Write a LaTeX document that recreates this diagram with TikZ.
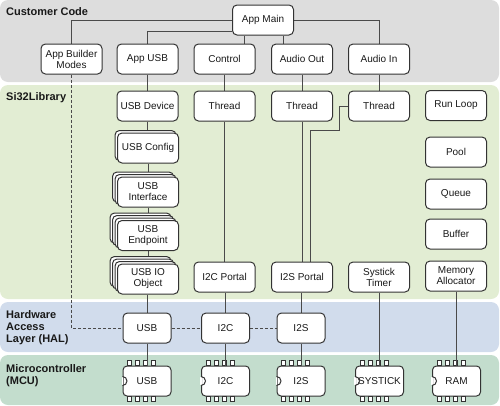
\documentclass[tikz,border=0pt]{standalone}
\usepackage{fontspec}
\setmainfont{Liberation Sans}
\usetikzlibrary{calc}
\definecolor{bandgray}{HTML}{DDDDDD}
\definecolor{bandgreen}{HTML}{E2EDD3}
\definecolor{bandblue}{HTML}{D1DCEC}
\definecolor{bandmcu}{HTML}{C3DDCD}
\definecolor{edgec}{HTML}{333333}
\definecolor{wirec}{HTML}{4A4A4A}
\pgfdeclarelayer{back}
\pgfdeclarelayer{mid}
\pgfsetlayers{back,mid,main}
\begin{document}
\begin{tikzpicture}[x=1pt,y=-1pt,
  box/.style={draw=edgec, fill=white, line width=1pt, rounded corners=4.5pt,
    minimum width=61pt, minimum height=30pt, inner sep=1pt, align=center,
    font=\fontsize{10}{11}\selectfont, text=black!90},
  halbox/.style={box, minimum width=48pt},
  chipbox/.style={box, minimum width=48pt, rounded corners=4pt},
  pin/.style={draw=edgec, fill=white, line width=0.8pt},
  wire/.style={draw=wirec, line width=1pt},
  dashwire/.style={wire, dash pattern=on 3pt off 2pt},
  band/.style={rounded corners=8pt},
  title/.style={anchor=north west, align=left, inner sep=0pt,
    font=\fontsize{11}{12}\selectfont\bfseries, text=black!90}]
\useasboundingbox (0,0) rectangle (500,405);
\begin{pgfonlayer}{back}
  \fill[bandgray,band] (0,0) rectangle (499,82);
  \fill[bandgreen,band] (0,85) rectangle (499,299);
  \fill[bandblue,band] (0,302) rectangle (499,352);
  \fill[bandmcu,band] (0,355) rectangle (499,405);
\end{pgfonlayer}
% titles
\node[title] (tcust) at (6,7) {Customer Code};
\node[title] (tlib) at (6,92) {Si32Library};
\node[title] (thal) at (6,310) {Hardware\\Access\\Layer (HAL)};
\node[title] (tmcu) at (6,364) {Microcontroller\\(MCU)};
% customer code
\node[box] (appmain) at (263,20) {App Main};
\node[box] (appbuilder) at (71.5,59) {App Builder\\Modes};
\node[box] (appusb) at (147.5,59) {App USB};
\node[box] (control) at (224.5,59) {Control};
\node[box] (audioout) at (302,59) {Audio Out};
\node[box] (audioin) at (379,59) {Audio In};
% library
\node[box] (usbdev) at (147.5,106) {USB Device};
\node[box] (cfgb1) at (145.5,145.5) {};
\node[box] (usbcfg) at (148,148) {USB Config};
\node[box] (intfb2) at (143,187) {};
\node[box] (intfb1) at (145.5,189.5) {};
\node[box] (usbintf) at (148,192) {USB\\Interface};
\node[box] (endpb3) at (140.5,228) {};
\node[box] (endpb2) at (143,230.5) {};
\node[box] (endpb1) at (145.5,233) {};
\node[box] (usbendp) at (148,235.5) {USB\\Endpoint};
\node[box] (iob3) at (140.5,271.5) {};
\node[box] (iob2) at (143,274) {};
\node[box] (iob1) at (145.5,276.5) {};
\node[box] (usbio) at (148,279) {USB IO\\Object};
\node[box] (thrctl) at (224.5,106) {Thread};
\node[box] (throut) at (302,106) {Thread};
\node[box] (thrin) at (379,106) {Thread};
\node[box] (runloop) at (456,105.5) {Run Loop};
\node[box] (pool) at (456,152) {Pool};
\node[box] (queue) at (456,194) {Queue};
\node[box] (buffer) at (456,234) {Buffer};
\node[box] (memalloc) at (456,276) {Memory\\Allocator};
\node[box] (i2cportal) at (224.5,277) {I2C Portal};
\node[box] (i2sportal) at (302,277) {I2S Portal};
\node[box] (systimer) at (379,277) {Systick\\Timer};
% HAL
\node[halbox] (halusb) at (147,328) {USB};
\node[halbox] (hali2c) at (225.5,328) {I2C};
\node[halbox] (hali2s) at (301,328) {I2S};
% MCU chips
\node[chipbox] (mcuusb) at (147,381) {USB};
\node[chipbox] (mcui2c) at (225.5,381) {I2C};
\node[chipbox] (mcui2s) at (301,381) {I2S};
\node[chipbox, inner sep=0pt] (mcusys) at (379.5,381) {SYSTICK};
\node[chipbox] (mcuram) at (456.5,381) {RAM};
\foreach \c in {mcuusb,mcui2c,mcui2s,mcusys,mcuram}{
  \foreach \o in {5,13,21,29}{
    \draw[pin] ([xshift=\o pt]\c.north west) rectangle ++(4,-5);
    \draw[pin] ([xshift=\o pt]\c.south west) rectangle ++(4,5);
  }
  \draw[white, line width=1.4pt] ([yshift=4pt]\c.west) -- ([yshift=-4pt]\c.west);
  \draw[edgec, line width=1pt] ([yshift=4.5pt]\c.west) arc[start angle=90, end angle=-90, radius=4.5pt];
}
% connectors
\begin{pgfonlayer}{mid}
  \draw[wire] (appmain.west) -| (appbuilder.north);
  \draw[wire] ($(appmain.west)+(0,11)$) -| (appusb.north);
  \draw[wire] (appmain.south -| 244,0) -- (control.north -| 244,0);
  \draw[wire] (appmain.south -| 283,0) -- (audioout.north -| 283,0);
  \draw[wire] (appmain.east) -| (audioin.north);
  \draw[wire] (appusb.south) -- (usbdev.north);
  \draw[wire] (usbdev.south) -- (usbdev.south |- usbcfg.north);
  \draw[wire] (usbcfg.south) -- (usbcfg.south |- usbintf.north);
  \draw[wire] (usbintf.south) -- (usbintf.south |- usbendp.north);
  \draw[wire] (usbendp.south) -- (usbendp.south |- usbio.north);
  \draw[wire] (usbio.south -| halusb.north) -- (halusb.north);
  \draw[wire] (control.south) -- (thrctl.north);
  \draw[wire] (thrctl.south) -- (i2cportal.north);
  \draw[wire] (i2cportal.south -| hali2c.north) -- (hali2c.north);
  \draw[wire] (audioout.south) -- (throut.north);
  \draw[wire] (throut.south) -- (i2sportal.north);
  \draw[wire] (i2sportal.south -| hali2s.north) -- (hali2s.north);
  \draw[wire] (audioin.south) -- (thrin.north);
  \draw[wire] (thrin.west) -| ++(-9,24) -| (i2sportal.north -| 310,0);
  \draw[dashwire] (appbuilder.south) |- (halusb.west);
  \draw[dashwire] (halusb.east) -- (hali2c.west);
  \draw[dashwire] (hali2c.east) -- (hali2s.west);
\end{pgfonlayer}
\draw[wire] (halusb.south) -- (mcuusb.north);
\draw[wire] (hali2c.south) -- (mcui2c.north);
\draw[wire] (hali2s.south) -- (mcui2s.north);
\draw[wire] (systimer.south -| mcusys.north) -- (mcusys.north);
\draw[wire] (memalloc.south -| mcuram.north) -- (mcuram.north);
\end{tikzpicture}
\end{document}
